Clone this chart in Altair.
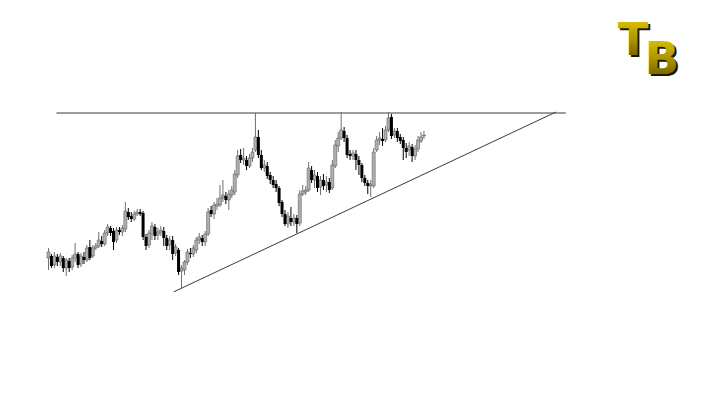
import altair as alt
import pandas as pd

# OHLC candles (price units)
opens = [142, 144, 135, 143, 138, 142, 132, 139, 133, 142, 146, 136, 143, 140, 153, 144,
         152, 154, 159, 156, 167, 172, 169, 160, 170, 168, 171, 188, 184, 181, 186, 188,
         187, 163, 155, 166, 173, 165, 168, 169, 162, 155, 160, 147, 150, 129, 130, 138,
         147, 146, 150, 160, 162, 158, 166, 190, 186, 194, 195, 202, 204, 200, 205, 208,
         225, 245, 240, 240, 234, 242, 250, 263, 245, 232, 234, 225, 220, 216, 212, 198,
         186, 176, 182, 178, 182, 177, 206, 208, 210, 230, 220, 224, 213, 220, 215, 218,
         212, 234, 254, 262, 269, 262, 246, 244, 246, 240, 235, 222, 217, 214, 214, 250,
         260, 261, 260, 270, 283, 265, 269, 263, 260, 252, 250, 253, 244, 251, 259, 264]
highs = [152, 146, 148, 146, 147, 144, 142, 142, 145, 157, 148, 147, 148, 155, 160, 155,
         157, 168, 164, 170, 176, 174, 172, 173, 173, 175, 198, 192, 188, 189, 191, 191,
         189, 166, 170, 178, 176, 172, 174, 173, 165, 164, 164, 156, 152, 135, 140, 151,
         152, 155, 163, 167, 165, 169, 192, 194, 198, 202, 215, 220, 208, 210, 214, 230,
         250, 251, 252, 244, 246, 252, 287, 270, 250, 240, 238, 228, 224, 220, 214, 200,
         190, 188, 193, 186, 185, 210, 215, 214, 238, 234, 230, 228, 224, 226, 224, 222,
         240, 260, 268, 288, 273, 265, 250, 250, 250, 244, 237, 225, 220, 220, 252, 264,
         268, 272, 274, 288, 286, 272, 272, 266, 263, 257, 258, 256, 255, 264, 268, 269]
lows = [130, 132, 132, 134, 134, 128, 124, 128, 130, 138, 132, 133, 136, 138, 140, 142,
        150, 152, 153, 154, 164, 164, 150, 157, 165, 164, 168, 180, 178, 179, 184, 184,
        160, 150, 152, 160, 160, 160, 164, 154, 150, 150, 140, 144, 125, 112, 125, 135,
        142, 143, 147, 156, 154, 154, 164, 183, 181, 190, 193, 198, 196, 190, 202, 205,
        222, 237, 235, 230, 232, 238, 248, 242, 230, 228, 221, 216, 212, 208, 194, 183,
        174, 172, 174, 174, 167, 174, 204, 205, 208, 217, 212, 208, 205, 210, 208, 207,
        210, 232, 248, 260, 258, 242, 240, 240, 230, 225, 218, 214, 206, 203, 212, 248,
        255, 254, 258, 268, 261, 262, 258, 256, 240, 242, 244, 238, 240, 248, 257, 261]
closes = [148, 134, 144, 138, 144, 132, 140, 132, 142, 146, 135, 144, 140, 152, 142, 152,
          154, 160, 156, 167, 173, 167, 158, 170, 168, 172, 189, 183, 181, 186, 188, 186,
          163, 154, 167, 174, 164, 168, 170, 162, 154, 160, 146, 153, 128, 132, 138, 148,
          146, 152, 160, 163, 158, 166, 188, 186, 195, 196, 202, 205, 200, 206, 210, 226,
          244, 240, 242, 234, 242, 248, 263, 245, 232, 235, 224, 220, 215, 212, 197, 186,
          176, 184, 178, 182, 176, 206, 209, 210, 232, 220, 225, 212, 220, 214, 218, 210,
          235, 255, 262, 270, 262, 245, 244, 247, 240, 235, 222, 217, 214, 216, 248, 260,
          262, 259, 270, 282, 264, 269, 262, 259, 252, 248, 254, 244, 251, 260, 263, 265]

# Pattern lines: resistance and rising support (candle index, price)
res_x = [2.7, 175.0]
res_y = [287, 287]
trend_x = [42.4, 171.6]
trend_y = [108.2, 287.9]

logo_letters = ["T", "B"]

W, H = 689, 394

df = pd.DataFrame({"i": list(range(len(opens))), "open": opens, "high": highs,
                   "low": lows, "close": closes})
df["dir"] = ["up" if c >= o else "down" for o, c in zip(opens, closes)]

xs = alt.Scale(domain=[-12, -12 + W / 3])
ys = alt.Scale(domain=[-2, 392])
X = alt.X("i:Q", scale=xs, axis=None)

base = alt.Chart(df)

wick_up = base.transform_filter(alt.datum.dir == "up").mark_rule(
    color="#6f6f6f", strokeWidth=1).encode(
    x=X, y=alt.Y("low:Q", scale=ys, axis=None), y2="high:Q")
wick_dn = base.transform_filter(alt.datum.dir == "down").mark_rule(
    color="#000000", strokeWidth=1).encode(
    x=X, y=alt.Y("low:Q", scale=ys, axis=None), y2="high:Q")
body_up = base.transform_filter(alt.datum.dir == "up").mark_bar(
    size=3, color="#b0b0b0", stroke="#5f5f5f", strokeWidth=0.6).encode(
    x=X, y=alt.Y("open:Q", scale=ys, axis=None), y2="close:Q")
body_dn = base.transform_filter(alt.datum.dir == "down").mark_bar(
    size=3, color="#000000").encode(
    x=X, y=alt.Y("open:Q", scale=ys, axis=None), y2="close:Q")

res_df = pd.DataFrame({"x": res_x, "y": res_y})
trend_df = pd.DataFrame({"x": trend_x, "y": trend_y})
res_line = alt.Chart(res_df).mark_line(color="#3a3a3a", strokeWidth=1).encode(
    x=alt.X("x:Q", scale=xs, axis=None), y=alt.Y("y:Q", scale=ys, axis=None))
trend_line = alt.Chart(trend_df).mark_line(color="#3a3a3a", strokeWidth=1).encode(
    x=alt.X("x:Q", scale=xs, axis=None), y=alt.Y("y:Q", scale=ys, axis=None))

gold = alt.Gradient(gradient="linear",
                    stops=[alt.GradientStop(color="#e8d200", offset=0),
                           alt.GradientStop(color="#ab9400", offset=0.5),
                           alt.GradientStop(color="#5a4a00", offset=1)],
                    x1=0, x2=0, y1=0, y2=1)


def letter(ch, px, py, fill, dx=0, dy=0):
    return alt.Chart(pd.DataFrame({"t": [ch]})).mark_text(
        font="DejaVu Sans", fontWeight="bold", fontSize=45,
        align="center", baseline="alphabetic", color=fill, dx=dx, dy=dy
    ).encode(text="t:N", x=alt.value(px), y=alt.value(py))


logo = (letter(logo_letters[0], 625, 47, "#1c1800", 2, 2)
        + letter(logo_letters[0], 625, 47, gold)
        + letter(logo_letters[1], 654, 66, "#1c1800", 2, 2)
        + letter(logo_letters[1], 654, 66, gold))

chart = alt.layer(res_line, trend_line, wick_up, wick_dn, body_up, body_dn, logo).properties(
    width=W, height=H, padding=0, autosize="none", background="white"
).configure_view(stroke=None)

chart.save("out.html", embed_options={"renderer": "svg", "actions": False})
